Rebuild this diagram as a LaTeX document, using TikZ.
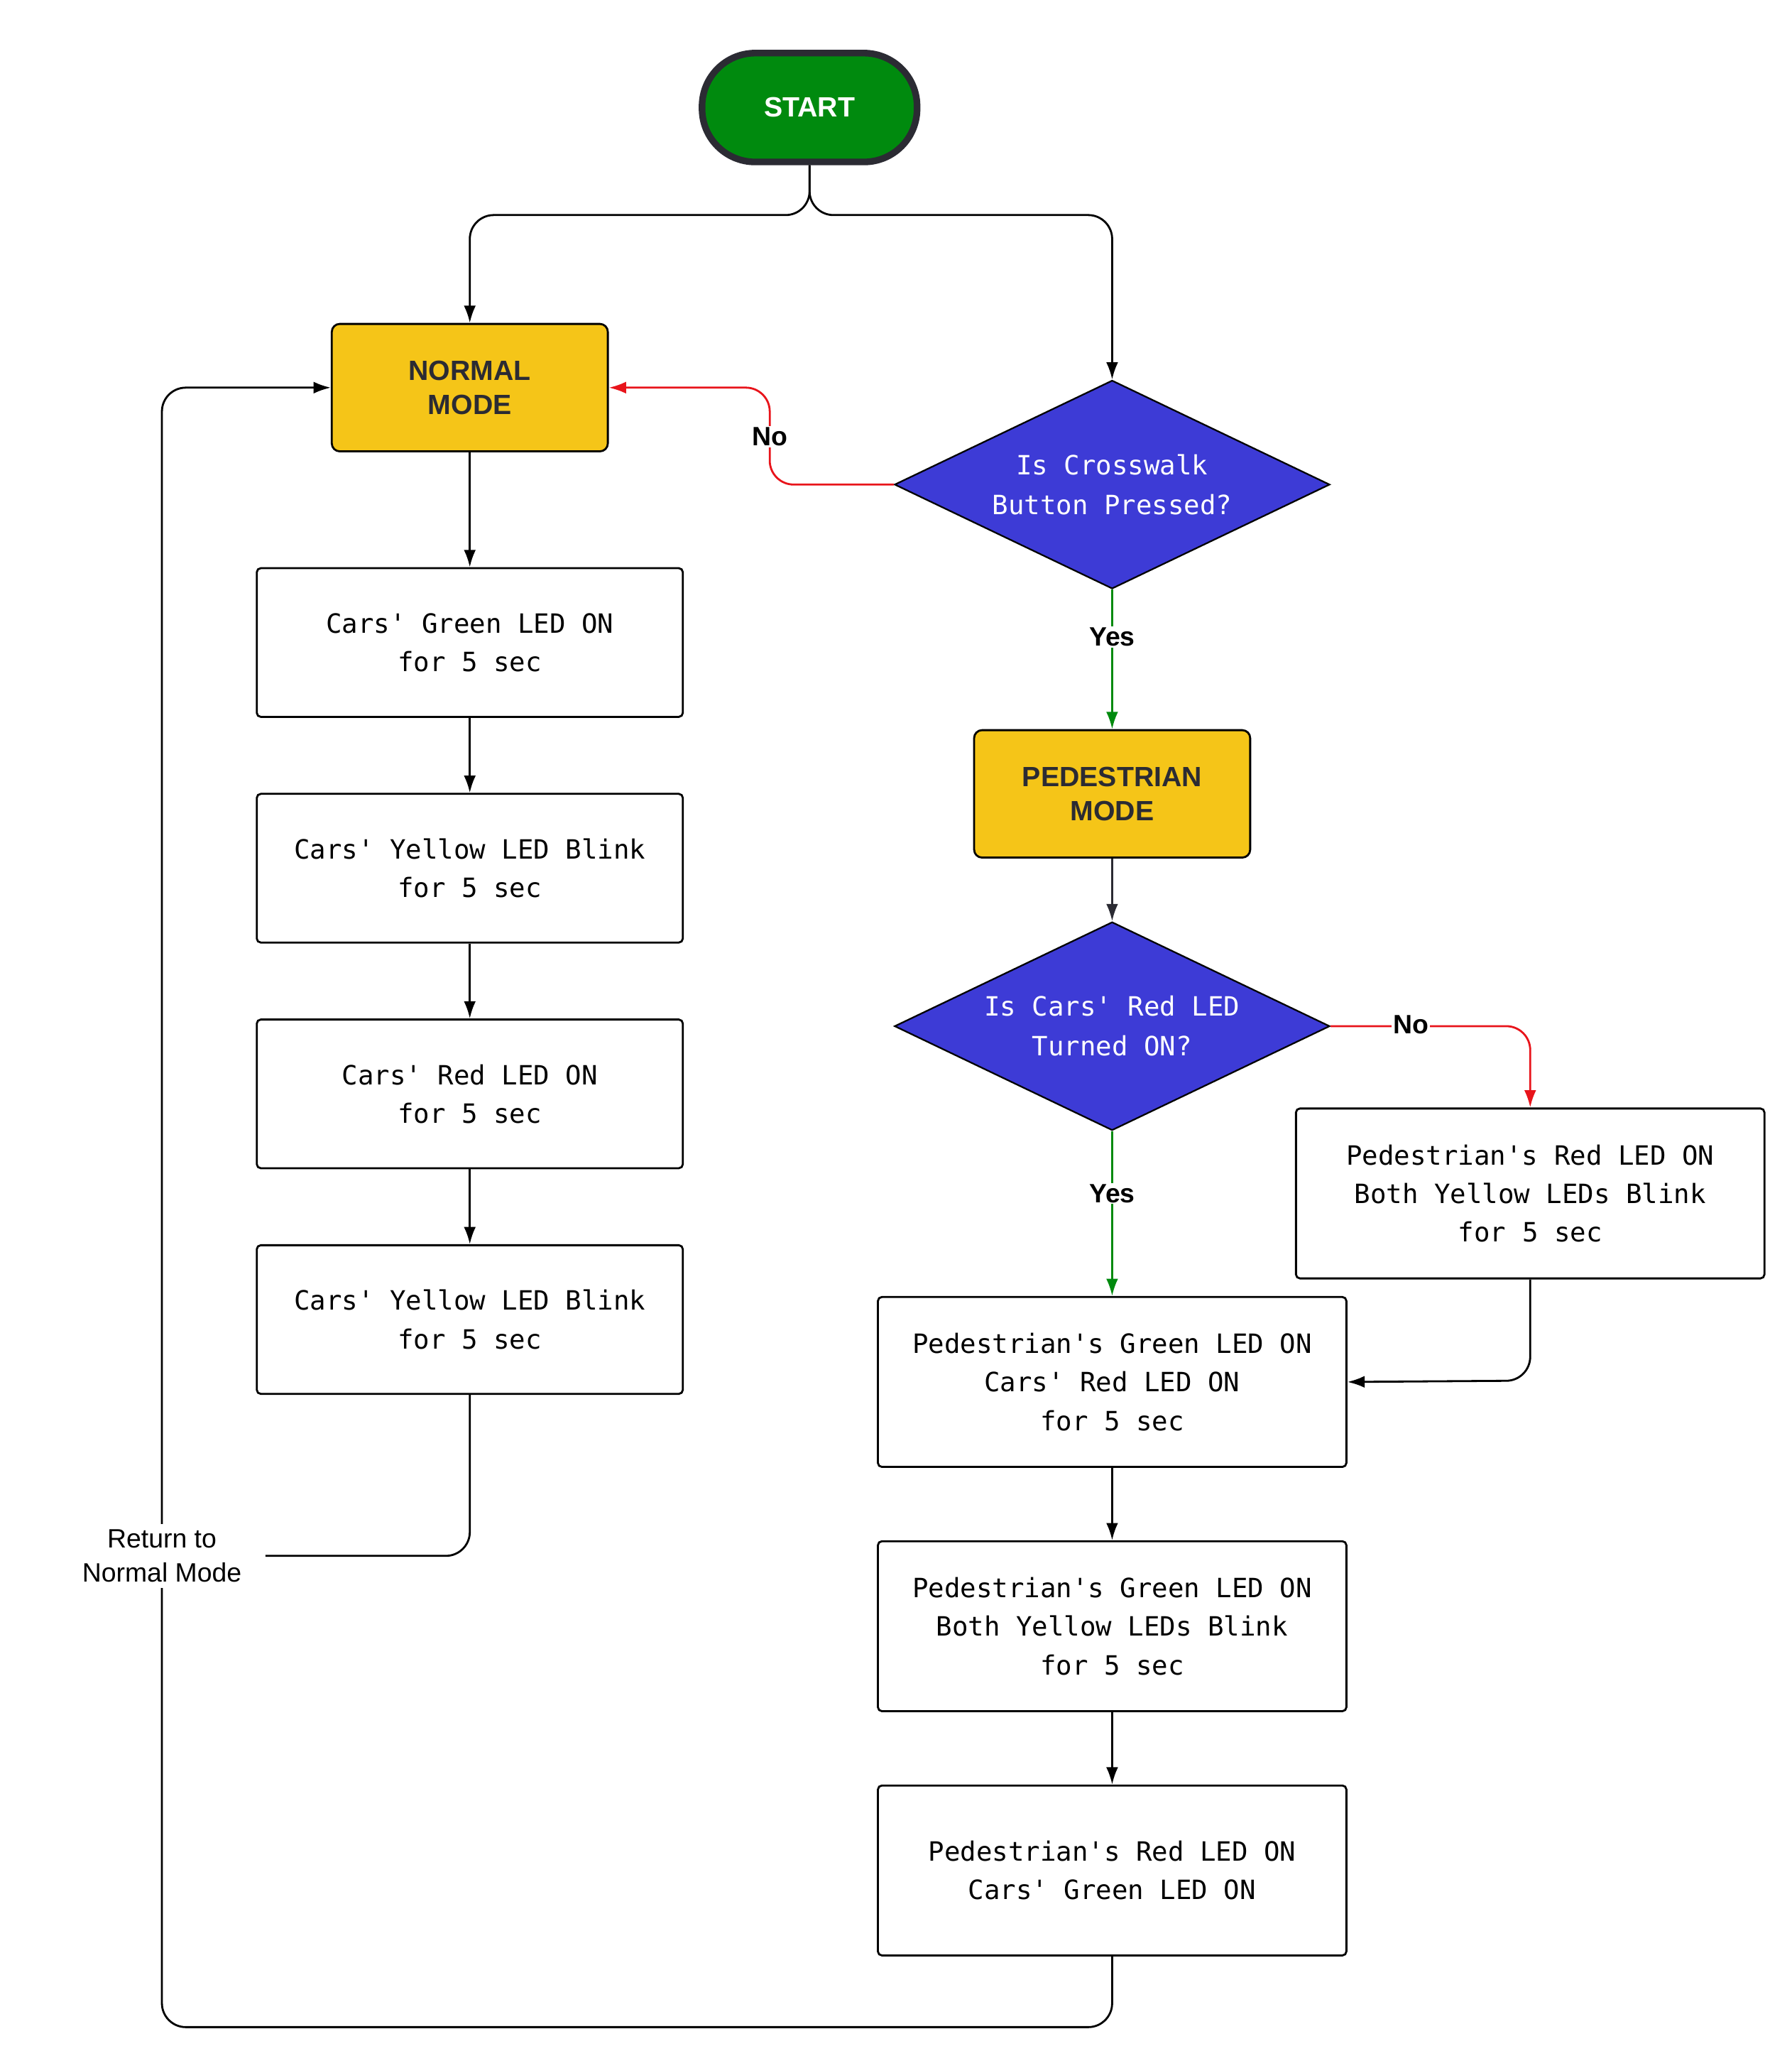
\documentclass[tikz,border=0pt]{standalone}
\usepackage{fontspec}
\setmainfont{Liberation Sans}
\newfontfamily\monof{DejaVu Sans Mono}
\usetikzlibrary{shapes.geometric,arrows.meta}
\definecolor{yel}{HTML}{F5C518}
\definecolor{blu}{HTML}{3D3BD6}
\definecolor{grn}{HTML}{008A0E}
\definecolor{redc}{HTML}{E8141B}
\definecolor{dk}{HTML}{2B2B33}
\begin{document}
\begin{tikzpicture}[x=1pt,y=-1pt,
  proc/.style={draw=black,line width=1.5pt,rounded corners=3pt,fill=white,font=\monof\fontsize{20}{29}\selectfont,align=center,inner sep=0pt},
  mode/.style={draw=black,line width=1.5pt,rounded corners=6pt,fill=yel,font=\bfseries\fontsize{21}{26}\selectfont,text=dk,align=center,minimum width=208pt,minimum height=96pt},
  dec/.style={diamond,aspect=2.09,draw=black,line width=1.2pt,fill=blu,text=white,font=\monof\fontsize{20}{30}\selectfont,align=center,minimum width=328pt,minimum height=157pt,inner sep=0pt},
  conn/.style={line width=1.5pt,rounded corners=18pt,-{Latex[length=13pt,width=9pt]}},
  lab/.style={font=\bfseries\fontsize{20}{24}\selectfont,fill=white,inner sep=1pt}]
\useasboundingbox (0,0) rectangle (1350,1545);
\node[draw=dk,line width=5pt,fill=grn,rounded corners=40pt,minimum width=162pt,minimum height=82pt,text=white,font=\bfseries\fontsize{21}{26}\selectfont] (start) at (610,81) {START};
\node[mode] (nm) at (354,292) {NORMAL\\MODE};
\node[proc,minimum width=321pt,minimum height=112pt] (c1) at (354,484) {Cars' Green LED ON\\for 5 sec};
\node[proc,minimum width=321pt,minimum height=112pt] (c2) at (354,654) {Cars' Yellow LED Blink\\for 5 sec};
\node[proc,minimum width=321pt,minimum height=112pt] (c3) at (354,824) {Cars' Red LED ON\\for 5 sec};
\node[proc,minimum width=321pt,minimum height=112pt] (c4) at (354,994) {Cars' Yellow LED Blink\\for 5 sec};
\node[dec] (d1) at (838,365) {Is Crosswalk\\Button Pressed?};
\node[mode] (pm) at (838,598) {PEDESTRIAN\\MODE};
\node[dec] (d2) at (838,773) {Is Cars' Red LED\\Turned ON?};
\node[proc,minimum width=353pt,minimum height=128pt] (r1) at (1153,899) {Pedestrian's Red LED ON\\Both Yellow LEDs Blink\\for 5 sec};
\node[proc,minimum width=353pt,minimum height=128pt] (p1) at (838,1041) {Pedestrian's Green LED ON\\Cars' Red LED ON\\for 5 sec};
\node[proc,minimum width=353pt,minimum height=128pt] (p2) at (838,1225) {Pedestrian's Green LED ON\\Both Yellow LEDs Blink\\for 5 sec};
\node[proc,minimum width=353pt,minimum height=128pt] (p3) at (838,1409) {Pedestrian's Red LED ON\\Cars' Green LED ON};
\draw[conn] (start.south) -- (610,162) -- (354,162) -- (nm.north);
\draw[conn] (start.south) -- (610,162) -- (838,162) -- (d1.north);
\draw[conn] (nm) -- (c1);
\draw[conn] (c1) -- (c2);
\draw[conn] (c2) -- (c3);
\draw[conn] (c3) -- (c4);
\draw[conn,redc] (d1.west) -- (580,365) -- (580,292) -- (nm.east);
\node[lab] at (580,329) {No};
\draw[conn,grn] (d1.south) -- (pm.north);
\node[lab] at (838,480) {Yes};
\draw[conn,dk] (pm) -- (d2.north);
\draw[conn,redc] (d2.east) -- (1153,773) -- (r1.north);
\node[lab] at (1063,772) {No};
\draw[conn,grn] (d2.south) -- (p1.north);
\node[lab] at (838,899) {Yes};
\draw[conn] (r1.south) -- (1153,1040) -- (p1.east);
\draw[conn] (p1) -- (p2);
\draw[conn] (p2) -- (p3);
\draw[conn] (p3.south) -- (838,1527) -- (122,1527) -- (122,292) -- (nm.west);
\draw[line width=1.5pt,rounded corners=18pt] (c4.south) -- (354,1172) -- (200,1172);
\node[fill=white,align=center,font=\fontsize{20}{26}\selectfont,inner sep=4pt] (ret) at (122,1172) {Return to\\Normal Mode};
\end{tikzpicture}
\end{document}
